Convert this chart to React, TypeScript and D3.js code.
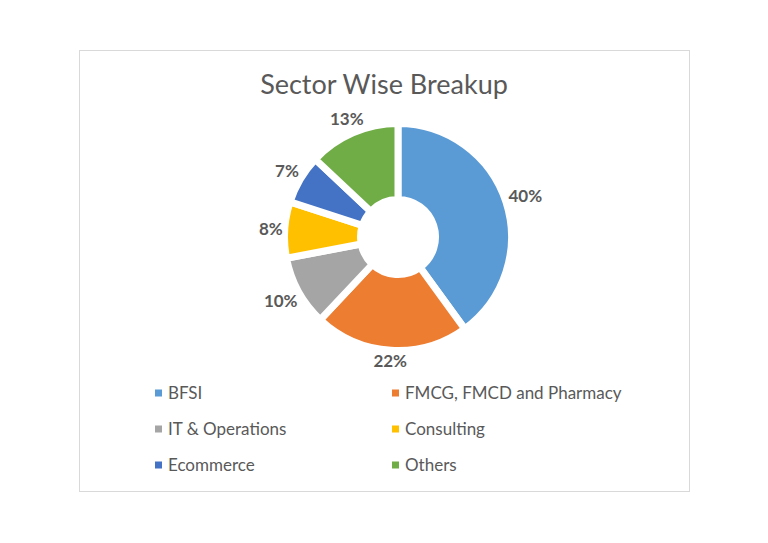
import { useEffect, useRef } from 'react';
import * as d3 from 'd3';

const sectors = ['BFSI', 'FMCG, FMCD and Pharmacy', 'IT & Operations', 'Consulting', 'Ecommerce', 'Others'];
const shares = [40, 22, 10, 8, 7, 13];
const colors = ['#5B9BD5', '#ED7D31', '#A5A5A5', '#FFC000', '#4472C4', '#70AD47'];

const FONT = 'Lato, "Open Sans", sans-serif';
const TEXT = '#595959';

export default function App() {
  const ref = useRef<SVGSVGElement>(null);

  useEffect(() => {
    const svgEl = ref.current;
    if (!svgEl) return;
    const svg = d3.select(svgEl);
    svg.selectAll('*').remove();

    const width = 768;
    const height = 543;
    svg.attr('viewBox', `0 0 ${width} ${height}`);

    // chart frame
    svg
      .append('rect')
      .attr('x', 79.5)
      .attr('y', 50.5)
      .attr('width', 610)
      .attr('height', 441)
      .attr('fill', '#fff')
      .attr('stroke', '#D9D9D9');

    svg
      .append('text')
      .attr('x', 384)
      .attr('y', 94)
      .attr('text-anchor', 'middle')
      .attr('font-family', FONT)
      .attr('font-size', 27)
      .attr('fill', TEXT)
      .text('Sector Wise Breakup');

    const cx = 398;
    const cy = 237;
    const gap = 7;
    const outer = 110 + gap / 2;
    const inner = 41 - gap / 2;

    const pie = d3
      .pie<number>()
      .sort(null)
      .value((d) => d);
    const arcs = pie(shares);

    const arc = d3.arc<d3.PieArcDatum<number>>().innerRadius(inner).outerRadius(outer);

    const g = svg.append('g').attr('transform', `translate(${cx},${cy})`);
    g.selectAll('path')
      .data(arcs)
      .join('path')
      .attr('d', arc)
      .attr('fill', (_d, i) => colors[i])
      .attr('stroke', '#fff')
      .attr('stroke-width', gap)
      .attr('stroke-linejoin', 'miter');

    // outside-end data labels
    const labelR = 110 + 6;
    g.selectAll('text.lbl')
      .data(arcs)
      .join('text')
      .attr('class', 'lbl')
      .attr('transform', (d) => {
        const a = (d.startAngle + d.endAngle) / 2;
        const ux = Math.sin(a);
        const uy = -Math.cos(a);
        const halfW = String(d.data).length * 5.5 + 5.5;
        const r = labelR + halfW * Math.abs(ux) + 7 * Math.abs(uy);
        return `translate(${r * ux},${r * uy})`;
      })
      .attr('text-anchor', 'middle')
      .attr('dy', '0.35em')
      .attr('font-family', FONT)
      .attr('font-size', 17)
      .attr('font-weight', 'bold')
      .attr('fill', TEXT)
      .text((d) => `${d.data}%`);

    // legend, two columns
    const col = d3.scalePoint<number>().domain([0, 1]).range([155, 392]);
    const row = d3.scalePoint<number>().domain([0, 1, 2]).range([393, 465]);
    const item = svg
      .append('g')
      .selectAll('g')
      .data(sectors)
      .join('g')
      .attr('transform', (_d, i) => `translate(${col(i % 2)},${row(Math.floor(i / 2))})`);
    item
      .append('rect')
      .attr('x', 0)
      .attr('y', -3.5)
      .attr('width', 7)
      .attr('height', 7)
      .attr('fill', (_d, i) => colors[i]);
    item
      .append('text')
      .attr('x', 13)
      .attr('dy', '0.35em')
      .attr('font-family', FONT)
      .attr('font-size', 17)
      .attr('fill', TEXT)
      .text((d) => d);
  }, []);

  return <svg ref={ref} width={768} height={543} style={{ display: 'block', margin: -8 }} />;
}
